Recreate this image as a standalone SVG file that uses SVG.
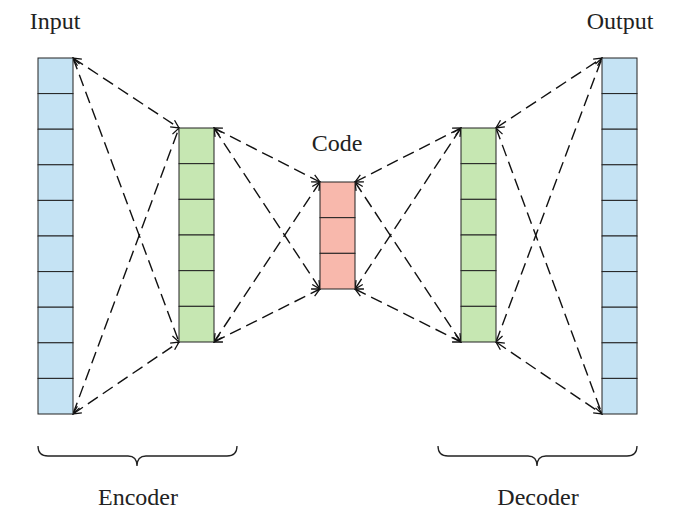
<svg xmlns="http://www.w3.org/2000/svg" width="690" height="515" viewBox="0 0 690 515">
<style>
.b{fill:#c5e3f4;stroke:#222;stroke-width:1}
.g{fill:#c6e7b2;stroke:#222;stroke-width:1}
.r{fill:#f8b8ac;stroke:#222;stroke-width:1}
.d line{stroke:#111;stroke-width:1.4;stroke-dasharray:12,6;marker-start:url(#a);marker-end:url(#a);fill:none}
text{font-family:"Liberation Serif",serif;font-size:24px;fill:#222}
.br{fill:none;stroke:#222;stroke-width:1.3}
</style>
<defs>
<marker id="a" markerWidth="10" markerHeight="10" refX="9" refY="5" orient="auto-start-reverse" markerUnits="userSpaceOnUse">
<path d="M1,1 L9,5 L1,9" fill="none" stroke="#111" stroke-width="1.3"/>
</marker>
</defs>
<rect width="690" height="515" fill="#fff"/>
<g id="connectors" class="d">
<line x1="73" y1="58" x2="179" y2="128"/>
<line x1="73" y1="58" x2="179" y2="342"/>
<line x1="73" y1="414" x2="179" y2="128"/>
<line x1="73" y1="414" x2="179" y2="342"/>
<line x1="214" y1="128" x2="320" y2="182"/>
<line x1="214" y1="128" x2="320" y2="289"/>
<line x1="214" y1="342" x2="320" y2="182"/>
<line x1="214" y1="342" x2="320" y2="289"/>
<line x1="355" y1="182" x2="461" y2="128"/>
<line x1="355" y1="182" x2="461" y2="342"/>
<line x1="355" y1="289" x2="461" y2="128"/>
<line x1="355" y1="289" x2="461" y2="342"/>
<line x1="496" y1="128" x2="602" y2="58"/>
<line x1="496" y1="128" x2="602" y2="414"/>
<line x1="496" y1="342" x2="602" y2="58"/>
<line x1="496" y1="342" x2="602" y2="414"/>
</g>
<g id="input">
<rect class="b" x="38" y="58" width="35" height="35.6"/><rect class="b" x="38" y="93.6" width="35" height="35.6"/><rect class="b" x="38" y="129.2" width="35" height="35.6"/><rect class="b" x="38" y="164.8" width="35" height="35.6"/><rect class="b" x="38" y="200.4" width="35" height="35.6"/><rect class="b" x="38" y="236" width="35" height="35.6"/><rect class="b" x="38" y="271.6" width="35" height="35.6"/><rect class="b" x="38" y="307.2" width="35" height="35.6"/><rect class="b" x="38" y="342.8" width="35" height="35.6"/><rect class="b" x="38" y="378.4" width="35" height="35.6"/>
<text x="55" y="29" text-anchor="middle">Input</text>
</g>
<g id="enc">
<rect class="g" x="179" y="128" width="35" height="35.67"/><rect class="g" x="179" y="163.67" width="35" height="35.67"/><rect class="g" x="179" y="199.33" width="35" height="35.67"/><rect class="g" x="179" y="235" width="35" height="35.67"/><rect class="g" x="179" y="270.67" width="35" height="35.67"/><rect class="g" x="179" y="306.33" width="35" height="35.67"/>
</g>
<g id="code">
<rect class="r" x="320" y="182" width="35" height="35.67"/><rect class="r" x="320" y="217.67" width="35" height="35.67"/><rect class="r" x="320" y="253.33" width="35" height="35.67"/>
<text x="337" y="151" text-anchor="middle">Code</text>
</g>
<g id="dec">
<rect class="g" x="461" y="128" width="35" height="35.67"/><rect class="g" x="461" y="163.67" width="35" height="35.67"/><rect class="g" x="461" y="199.33" width="35" height="35.67"/><rect class="g" x="461" y="235" width="35" height="35.67"/><rect class="g" x="461" y="270.67" width="35" height="35.67"/><rect class="g" x="461" y="306.33" width="35" height="35.67"/>
</g>
<g id="output">
<rect class="b" x="602" y="58" width="35" height="35.6"/><rect class="b" x="602" y="93.6" width="35" height="35.6"/><rect class="b" x="602" y="129.2" width="35" height="35.6"/><rect class="b" x="602" y="164.8" width="35" height="35.6"/><rect class="b" x="602" y="200.4" width="35" height="35.6"/><rect class="b" x="602" y="236" width="35" height="35.6"/><rect class="b" x="602" y="271.6" width="35" height="35.6"/><rect class="b" x="602" y="307.2" width="35" height="35.6"/><rect class="b" x="602" y="342.8" width="35" height="35.6"/><rect class="b" x="602" y="378.4" width="35" height="35.6"/>
<text x="620" y="29" text-anchor="middle">Output</text>
</g>
<g id="encoder-label">
<path class="br" d="M38,446 Q38,456 48,456 L128,456 Q137,456 137,466 Q137,456 146,456 L227,456 Q237,456 237,446"/>
<text x="138" y="505" text-anchor="middle">Encoder</text>
</g>
<g id="decoder-label">
<path class="br" d="M438,446 Q438,456 448,456 L528,456 Q537,456 537,466 Q537,456 546,456 L627,456 Q637,456 637,446"/>
<text x="538" y="505" text-anchor="middle">Decoder</text>
</g>
</svg>
